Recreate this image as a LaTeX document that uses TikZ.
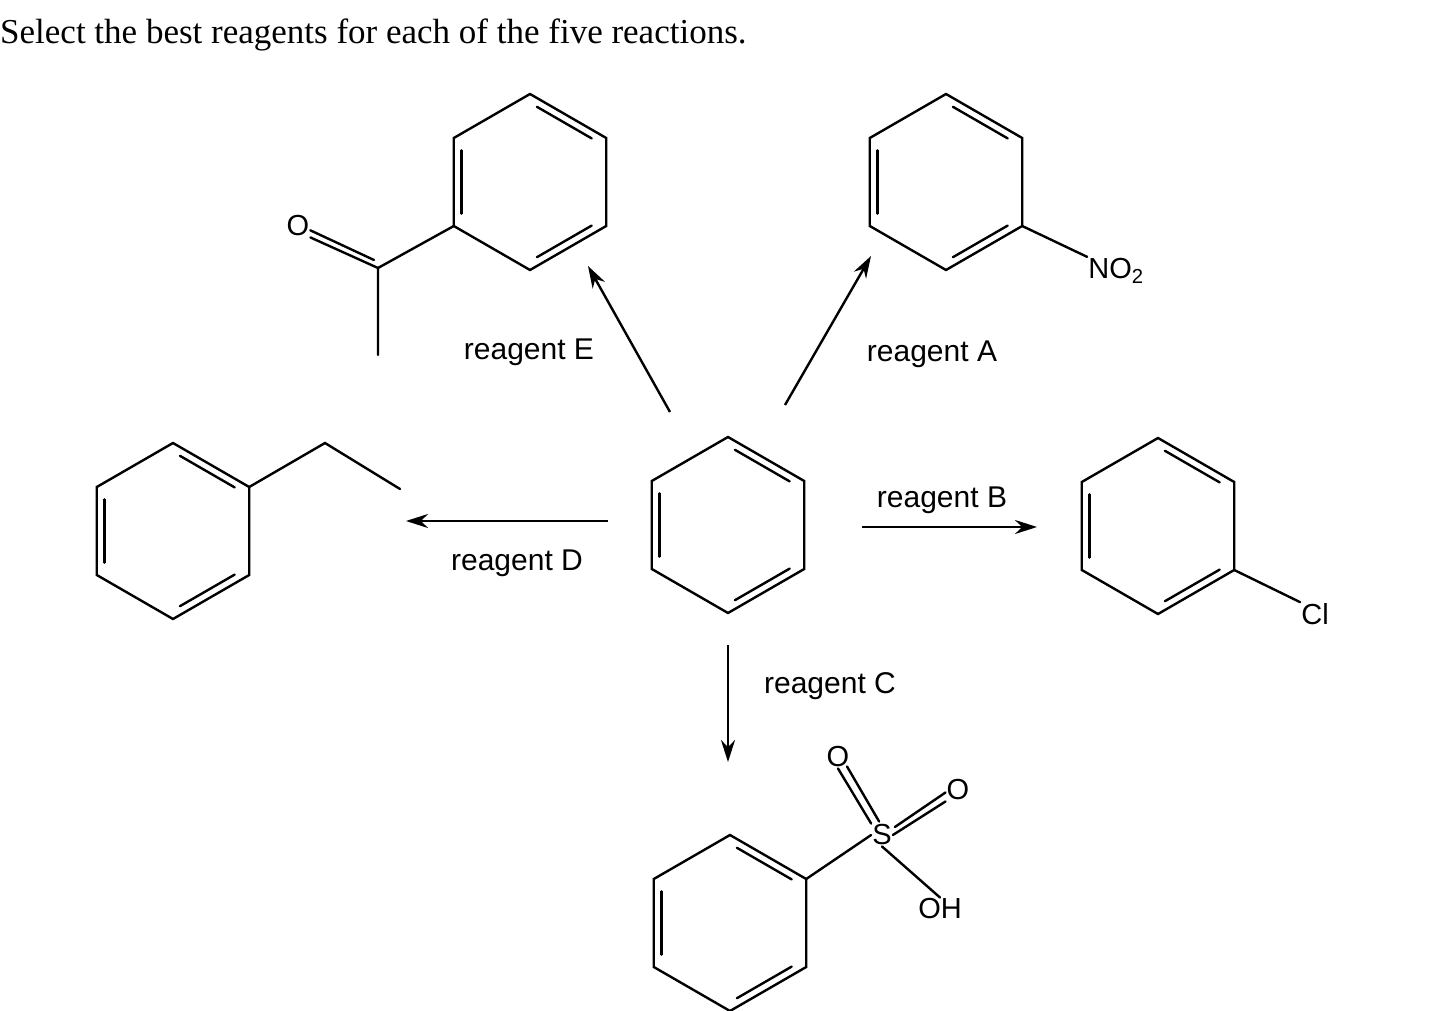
\documentclass[tikz,border=0pt]{standalone}
\usepackage{fontspec}
\setmainfont{Liberation Serif}
\newfontfamily\lab{Liberation Sans}
\usetikzlibrary{calc,arrows.meta}
\tikzset{bond/.style={line width=2.4pt,line cap=round},
 rxn/.style={line width=2.4pt,-{Stealth[length=22pt,width=14pt]}},
 lbl/.style={font=\lab\fontsize{30}{30}\selectfont,inner sep=0pt},
 atom/.style={font=\lab\fontsize{29}{29}\selectfont,inner sep=1pt}}
\newcommand{\benz}[3]{%
 \begin{scope}[shift={(#1,#2)}]
  \foreach \i/\a in {1/-90,2/-30,3/30,4/90,5/150,6/210}{\coordinate (#3\i) at (\a:88);}
  \coordinate (#3c) at (0,0);
  \draw[bond] (#31)--(#32)--(#33)--(#34)--(#35)--(#36)--cycle;
  \foreach \p/\q in {1/2,3/4,5/6}{\draw[bond,shorten <=8pt,shorten >=8pt] ($(#3c)!0.9!(#3\p)$)--($(#3c)!0.9!(#3\q)$);}
 \end{scope}}
\begin{document}
\begin{tikzpicture}[x=1pt,y=-1pt]
\useasboundingbox (0,0) rectangle (1444,1011);
\node[anchor=west,inner sep=0pt,font=\fontsize{35}{35}\selectfont] (title) at (0,35) {Select the best reagents for each of the five reactions.};
\benz{728}{525}{m}
\benz{530}{182}{e}
\benz{946}{182}{n}
\benz{173}{531}{d}
\benz{1158}{526}{b}
\benz{730}{923}{s}
% acetophenone
\coordinate (ec) at (378,268); \coordinate (eme) at (378,355);
\node[atom] (eo) at (298,226) {O};
\draw[bond] (e5)--(ec)--(eme);
\draw[bond] (ec)--(eo.south east);
\draw[bond,shorten >=2pt] ($(ec)+(-4,-8)$)--($(eo.south east)+(-2,-8)$);
% nitro
\node[atom] (no2) at (1116,271) {NO\textsubscript{2}};
\draw[bond] (n3)--(no2.north west);
% ethyl
\coordinate (d1c) at (325,443); \coordinate (d2c) at (400,489);
\draw[bond] (d2)--(d1c)--(d2c);
% chloro
\node[atom] (cl) at (1315,614) {Cl};
\draw[bond] (b3)--(cl.north west);
% sulfonic
\node[atom] (S) at (882,835) {S};
\node[atom] (so1) at (838,757) {O};
\node[atom] (so2) at (958,790) {O};
\node[atom] (soh) at (940,909) {OH};
\draw[bond] (s2)--(S.west);
\draw[bond] (S.north west)--(so1.south);
\draw[bond] ($(S.north west)+(8,-2)$)--($(so1.south)+(9,-2)$);
\draw[bond] (S.east)--(so2.south west);
\draw[bond] ($(S.east)+(2,-8)$)--($(so2.south west)+(0,-9)$);
\draw[bond] (S.south)--(soh.north);
% arrows
\coordinate (aE1) at (670,412); \coordinate (aE2) at (588,266);
\coordinate (aA1) at (785,405); \coordinate (aA2) at (871,256);
\coordinate (aD1) at (608,521); \coordinate (aD2) at (406,521);
\coordinate (aB1) at (862,527); \coordinate (aB2) at (1037,527);
\coordinate (aC1) at (728,645); \coordinate (aC2) at (728,762);
\foreach \s in {E,A,D,B,C}{\draw[rxn] (a\s1)--(a\s2);}
\node[lbl] (lE) at (529,352) {reagent E};
\node[lbl] (lA) at (932,354) {reagent A};
\node[lbl] (lD) at (517,563) {reagent D};
\node[lbl] (lB) at (942,500) {reagent B};
\node[lbl] (lC) at (830,686) {reagent C};
\end{tikzpicture}
\end{document}
